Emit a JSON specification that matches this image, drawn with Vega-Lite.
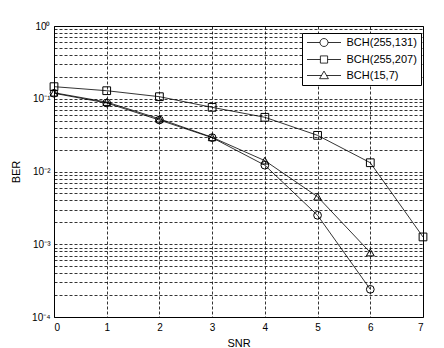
{
  "$schema": "https://vega.github.io/schema/vega-lite/v6.json",
  "width": 369,
  "height": 291,
  "autosize": {"type": "none"},
  "padding": {"left": 54, "top": 26, "right": 21, "bottom": 31},
  "background": "white",
  "config": {
    "view": {"stroke": "black", "strokeWidth": 1},
    "font": "Liberation Sans",
    "axis": {
      "domain": false,
      "ticks": false,
      "grid": true,
      "gridColor": "black",
      "gridOpacity": 1,
      "gridWidth": 0.8,
      "gridDash": [3, 2],
      "labelFont": "Liberation Sans",
      "labelFontSize": 10,
      "labelColor": "black",
      "titleFont": "Liberation Sans",
      "titleFontSize": 11,
      "titleFontWeight": "normal",
      "titleColor": "black"
    }
  },
  "data": {
    "values": [
      {"snr": 0, "ber": 0.119, "code": "BCH(255,131)"},
      {"snr": 1, "ber": 0.0875, "code": "BCH(255,131)"},
      {"snr": 2, "ber": 0.051, "code": "BCH(255,131)"},
      {"snr": 3, "ber": 0.0292, "code": "BCH(255,131)"},
      {"snr": 4, "ber": 0.0122, "code": "BCH(255,131)"},
      {"snr": 5, "ber": 0.0025, "code": "BCH(255,131)"},
      {"snr": 6, "ber": 0.00024, "code": "BCH(255,131)"},
      {"snr": 0, "ber": 0.1466, "code": "BCH(255,207)"},
      {"snr": 1, "ber": 0.129, "code": "BCH(255,207)"},
      {"snr": 2, "ber": 0.1067, "code": "BCH(255,207)"},
      {"snr": 3, "ber": 0.0762, "code": "BCH(255,207)"},
      {"snr": 4, "ber": 0.0556, "code": "BCH(255,207)"},
      {"snr": 5, "ber": 0.0314, "code": "BCH(255,207)"},
      {"snr": 6, "ber": 0.0132, "code": "BCH(255,207)"},
      {"snr": 7, "ber": 0.00126, "code": "BCH(255,207)"},
      {"snr": 0, "ber": 0.121, "code": "BCH(15,7)"},
      {"snr": 1, "ber": 0.09, "code": "BCH(15,7)"},
      {"snr": 2, "ber": 0.053, "code": "BCH(15,7)"},
      {"snr": 3, "ber": 0.0295, "code": "BCH(15,7)"},
      {"snr": 4, "ber": 0.0141, "code": "BCH(15,7)"},
      {"snr": 5, "ber": 0.0045, "code": "BCH(15,7)"},
      {"snr": 6, "ber": 0.00077, "code": "BCH(15,7)"}
    ]
  },
  "encoding": {
    "x": {
      "field": "snr",
      "type": "quantitative",
      "scale": {"domain": [0, 7], "nice": false, "zero": false},
      "axis": {"values": [0, 1, 2, 3, 4, 5, 6, 7], "title": "SNR", "labelPadding": 5, "titlePadding": 5}
    },
    "y": {
      "field": "ber",
      "type": "quantitative",
      "scale": {"type": "log", "domain": [0.0001, 1], "nice": false},
      "axis": {
        "title": "BER",
        "labelPadding": 4,
        "titlePadding": 10,
        "values": [0.0001, 0.0002, 0.0003, 0.0004, 0.0005, 0.0006, 0.0007, 0.0008, 0.0009, 0.001, 0.002, 0.003, 0.004, 0.005, 0.006, 0.007, 0.008, 0.009, 0.01, 0.02, 0.03, 0.04, 0.05, 0.06, 0.07, 0.08, 0.09, 0.1, 0.2, 0.3, 0.4, 0.5, 0.6, 0.7, 0.8, 0.9, 1],
        "labelExpr": "datum.value == 1 ? '10⁰' : datum.value == 0.1 ? '10⁻¹' : datum.value == 0.01 ? '10⁻²' : datum.value == 0.001 ? '10⁻³' : datum.value == 0.0001 ? '10⁻⁴' : ''"
      }
    }
  },
  "layer": [
    {
      "mark": {"type": "line", "color": "black", "strokeWidth": 0.8},
      "encoding": {"detail": {"field": "code"}, "order": {"field": "snr"}}
    },
    {
      "mark": {"type": "point", "filled": false, "color": "black", "strokeWidth": 1, "size": 60, "opacity": 1},
      "encoding": {
        "shape": {
          "field": "code",
          "type": "nominal",
          "scale": {"domain": ["BCH(255,131)", "BCH(255,207)", "BCH(15,7)"], "range": ["circle", "square", "triangle-up"]},
          "legend": null
        }
      }
    },
    {
      "mark": {"type": "point", "filled": false, "color": "black", "strokeWidth": 1, "size": 64, "opacity": 0},
      "encoding": {
        "shape": {
          "field": "code",
          "type": "nominal",
          "scale": {
            "domain": ["BCH(255,131)", "BCH(255,207)", "BCH(15,7)"],
            "range": [
              "M-4.25,0L-1,0M1,0L4.25,0M-1,0A1,1 0 1,0 1,0A1,1 0 1,0 -1,0",
              "M-4.25,0L-0.9,0M0.9,0L4.25,0M-0.9,-0.9L0.9,-0.9L0.9,0.9L-0.9,0.9Z",
              "M-4.25,0L-0.6,0M0.6,0L4.25,0M0,-1.1L1.1,0.8L-1.1,0.8Z"
            ]
          },
          "legend": {
            "title": null,
            "orient": "none",
            "legendX": 248,
            "legendY": 7,
            "padding": 4,
            "strokeColor": "black",
            "fillColor": "white",
            "symbolOpacity": 1,
            "symbolSize": 64,
            "symbolStrokeColor": "black",
            "symbolStrokeWidth": 0.8,
            "symbolFillColor": "transparent",
            "symbolOffset": 12.5,
            "labelOffset": 17,
            "labelFont": "Liberation Sans",
            "labelFontSize": 11,
            "labelColor": "black",
            "rowPadding": 4
          }
        }
      }
    }
  ],
  "resolve": {"scale": {"shape": "independent"}}
}
